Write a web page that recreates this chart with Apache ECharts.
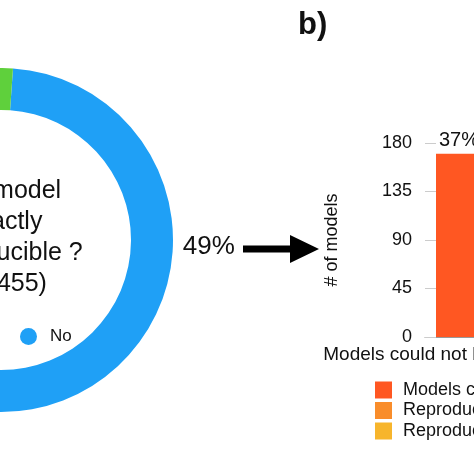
<!DOCTYPE html>
<html>
<head>
<meta charset="utf-8">
<script src="https://cdn.jsdelivr.net/npm/echarts@6/dist/echarts.min.js"></script>
<style>
html,body{margin:0;padding:0;background:#fff;}
#c{width:474px;height:474px;}
</style>
</head>
<body>
<div id="c"></div>
<script>
// Panel a) donut: Is a model exactly reproducible? (n=455)
var pieNames = ['No', 'Yes'];
var pieValues = [223, 232];
var pieColors = ['#1FA0F6', '#5FD03C'];
var pieTitle = 'Is a model\nexactly\nreproducible ?\n(n=455)';

// Panel b) bar chart
var barCategories = ['Models could not be reproduced', 'Reproduced with modifications', 'Reproduced with author help'];
var barSeriesNames = ['Models could not be reproduced', 'Reproduced with modifications', 'Reproduced with author help'];
var barValues = [170, 35, 18];
var barColors = ['#FF5722', '#F98D2B', '#F7B52C'];
var barTotal = 455;
var yTicks = [0, 45, 90, 135, 180];

var FONT = 'Liberation Sans, Arial, Helvetica, sans-serif';

var barSeries = barSeriesNames.map(function (name, i) {
  return {
    name: name,
    type: 'bar',
    stack: 'all',
    barWidth: 46,
    itemStyle: { color: barColors[i] },
    data: barCategories.map(function (c, j) { return j === i ? barValues[i] : '-'; }),
    label: {
      show: true,
      position: 'top',
      distance: 3,
      color: '#111',
      fontSize: 20,
      fontFamily: FONT,
      formatter: function (p) { return Math.round(p.value / barTotal * 100) + '%'; }
    }
  };
});

var chart = echarts.init(document.getElementById('c'), null, { renderer: 'canvas' });
chart.setOption({
  backgroundColor: '#fff',
  animation: false,
  textStyle: { fontFamily: FONT },
  legend: [
    {
      data: ['No'],
      left: 15,
      top: 323,
      icon: 'circle',
      itemWidth: 17,
      itemHeight: 17,
      textStyle: { fontSize: 17, color: '#111', fontFamily: FONT, padding: [0, 0, 0, 8] }
    },
    {
      data: barSeriesNames,
      orient: 'vertical',
      left: 375,
      top: 381,
      icon: 'rect',
      itemWidth: 17,
      itemHeight: 17,
      itemGap: 2.5,
      padding: 0,
      textStyle: { fontSize: 18, color: '#111', fontFamily: FONT, padding: [0, 0, 0, 6] }
    }
  ],
  grid: { left: 425, top: 143, right: -155, height: 194, containLabel: false, outerBoundsMode: 'none' },
  xAxis: {
    type: 'category',
    data: barCategories,
    axisLine: { show: true, lineStyle: { color: '#999', width: 1 } },
    axisTick: { show: false },
    axisLabel: {
      color: '#111', fontSize: 19, fontFamily: FONT, margin: 8,
      interval: function (index) { return index === 0; }
    }
  },
  yAxis: {
    type: 'value',
    min: yTicks[0],
    max: yTicks[yTicks.length - 1],
    interval: yTicks[1] - yTicks[0],
    name: '# of models',
    nameLocation: 'middle',
    nameGap: 84,
    nameRotate: 90,
    nameTextStyle: { fontSize: 18, color: '#111', fontFamily: FONT },
    axisLine: { show: false },
    axisTick: { show: true, inside: true, length: 11, lineStyle: { color: '#ccc' } },
    splitLine: { show: false },
    axisLabel: { color: '#111', fontSize: 18, fontFamily: FONT, margin: 13 }
  },
  series: [
    {
      type: 'pie',
      center: [1, 240],
      radius: [130, 172],
      startAngle: 86,
      clockwise: true,
      avoidLabelOverlap: false,
      silent: true,
      data: pieNames.map(function (n, i) {
        return { name: n, value: pieValues[i], itemStyle: { color: pieColors[i] } };
      }),
      label: {
        show: true,
        position: 'outside',
        color: '#111',
        fontSize: 26,
        fontFamily: FONT,
        formatter: function (p) { return Math.round(p.percent) + '%'; }
      },
      labelLine: { show: false, length: 5, length2: 0 }
    }
  ].concat(barSeries),
  graphic: [
    {
      type: 'text',
      x: 3.5,
      y: 176,
      style: {
        text: pieTitle,
        textAlign: 'center',
        textVerticalAlign: 'top',
        font: '25px ' + FONT,
        lineHeight: 31,
        fill: '#111'
      }
    },
    {
      type: 'text',
      x: 298,
      y: 25,
      style: {
        text: 'b)',
        textAlign: 'left',
        textVerticalAlign: 'middle',
        font: 'bold 31px ' + FONT,
        fill: '#111'
      }
    },
    {
      type: 'polygon',
      shape: {
        points: [[243, 245.5], [290, 245.5], [290, 235], [319, 249], [290, 263], [290, 252.5], [243, 252.5]]
      },
      style: { fill: '#000' }
    }
  ]
});
</script>
</body>
</html>
